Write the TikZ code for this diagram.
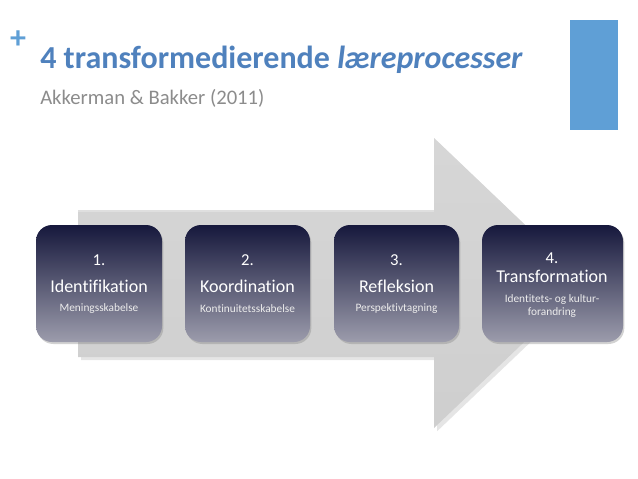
\documentclass[tikz,border=0pt]{standalone}
\usepackage{fontspec}
\setmainfont[Ligatures=CommonOff]{Carlito}
\usetikzlibrary{shadows}
\definecolor{tblue}{HTML}{4F81BD}
\definecolor{rblue}{HTML}{5F9FD6}
\definecolor{btop}{HTML}{16183C}
\definecolor{bbot}{HTML}{9C9CAC}
\begin{document}
\begin{tikzpicture}[x=0.75pt,y=-0.75pt,
  stepbox/.style={rounded corners=12pt,top color=btop,bottom color=bbot,draw=none,
    drop shadow={shadow xshift=1pt,shadow yshift=-1.5pt,opacity=0.35}}]
\useasboundingbox (0,0) rectangle (638,478);
\fill[white] (0,0) rectangle (638,478);
\node[text=rblue,font=\fontsize{24}{24}\selectfont\bfseries] (plus) at (18,40) {+};
\fill[rblue] (570,20) rectangle (618,130);
\node[anchor=base west,inner sep=0,text=tblue,font=\fontsize{24}{28}\selectfont\bfseries] (title) at (40,69) {4 transformedierende \textit{læreprocesser}};
\node[anchor=base west,inner sep=0,text=gray!90,font=\fontsize{15.5}{18}\selectfont] (sub) at (40,104) {Akkerman \& Bakker (2011)};
% arrow
\path[top color=gray!32,bottom color=gray!38,draw=none,drop shadow={opacity=0.2}]
 (78,210) -- (434,210) -- (434,138) -- (586,283) -- (434,428) -- (434,357) -- (78,357) -- cycle;
\draw[white!75!gray,line width=1pt] (78,211) -- (434,211);
% boxes
\foreach \n/\xa/\xb/\num/\t/\s in {b1/36/162/1./Identifikation/Meningsskabelse,
  b2/185/310/2./Koordination/Kontinuitetsskabelse,
  b3/334/459/3./Refleksion/Perspektivtagning}{
  \path[stepbox] (\xa,225) rectangle (\xb,342);
  \node[text=white,font=\fontsize{12.5}{14}\selectfont] (\n n) at ({(\xa+\xb)/2},260) {\num};
  \node[text=white,font=\fontsize{13.5}{15}\selectfont] (\n t) at ({(\xa+\xb)/2},286) {\t};
  \node[text=white!85!gray,font=\fontsize{8.5}{10}\selectfont] (\n s) at ({(\xa+\xb)/2},309) {\s};
}
\path[stepbox] (482,225) rectangle (623,342);
\node[text=white,font=\fontsize{12.5}{14}\selectfont] (b4n) at (552,258) {4.};
\node[text=white,font=\fontsize{13.5}{15}\selectfont] (b4t) at (552,276) {Transformation};
\node[text=white!85!gray,font=\fontsize{8.5}{10}\selectfont,align=center] (b4s) at (552,306) {Identitets- og kultur-\\forandring};
\end{tikzpicture}
\end{document}
